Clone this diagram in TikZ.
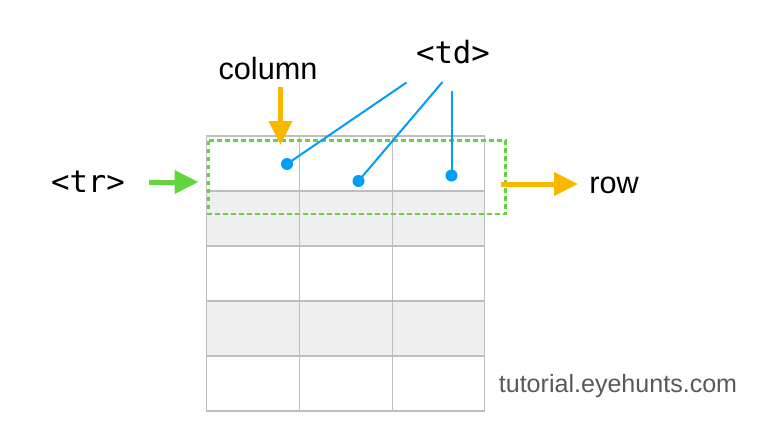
\documentclass[tikz,border=0pt]{standalone}
\usepackage{fontspec}
\setmainfont{Liberation Sans}
\setmonofont{DejaVu Sans Mono}
\usetikzlibrary{arrows.meta,positioning}
\definecolor{tdblue}{RGB}{0,158,248}
\definecolor{colorange}{RGB}{249,184,0}
\definecolor{trgreen}{RGB}{98,212,60}
\definecolor{gridgray}{RGB}{190,190,190}
\definecolor{rowshade}{RGB}{239,239,239}
\tikzset{lbl/.style={font=\fontsize{23}{26}\selectfont},
  tag/.style={font=\ttfamily\fontsize{23}{26}\selectfont},
  fat/.style={line width=3.75pt,-{Triangle[length=18pt,width=17pt]}},
  pin/.style={tdblue,line width=1.5pt},
  dot/.style={circle,fill=tdblue,inner sep=0pt,minimum size=9pt}}

\begin{document}
\begin{tikzpicture}[x=0.75pt,y=-0.75pt]
\useasboundingbox (0,0) rectangle (776,444);
% shaded rows and grid
\fill[rowshade] (206.5,191) rectangle (484.5,246);
\fill[rowshade] (206.5,301) rectangle (484.5,356);
\foreach \y in {191,246,301,356}
  \draw[gridgray,line width=0.9pt] (206.5,\y) -- (484.5,\y);
\foreach \x in {299.5,392.5}
  \draw[gridgray,line width=0.9pt] (\x,136) -- (\x,411);
\draw[gridgray,line width=0.9pt] (206.5,136) rectangle (484.5,411);
% row box
\draw[trgreen,line width=2.2pt,dash pattern=on 3.5pt off 2.5pt] (208.5,140.5) rectangle (505.5,214);

\node[lbl] (col) at (268,69) {column};
\node[tag] (td) at (453,52) {<td>};
\node[tag] (tr) at (88,182) {<tr>};
\node[lbl] (row) at (614,185.5) {row};
\node[font=\fontsize{18.8}{22}\selectfont,text=black!65] (site) at (618,386) {tutorial.eyehunts.com};

\node[dot] (c1) at (287,164) {};
\node[dot] (c2) at (358.5,181) {};
\node[dot] (c3) at (451.5,175.5) {};
\coordinate (p1) at (406.5,82.5);
\coordinate (p2) at (442.5,82);
\coordinate (p3) at (451.5,91);
\draw[pin] (p1) -- (c1.center);
\draw[pin] (p2) -- (c2.center);
\draw[pin] (p3) -- (c3.center);

\coordinate (a1) at (280.5,87);
\coordinate (a2) at (280.5,145);
\coordinate (b1) at (149,182);
\coordinate (b2) at (198.5,182);
\coordinate (r1) at (500.5,184);
\coordinate (r2) at (578,184);
\draw[fat,colorange] (a1) -- (a2);
\draw[fat,trgreen] (b1) -- (b2);
\draw[fat,colorange] (r1) -- (r2);
\end{tikzpicture}
\end{document}
